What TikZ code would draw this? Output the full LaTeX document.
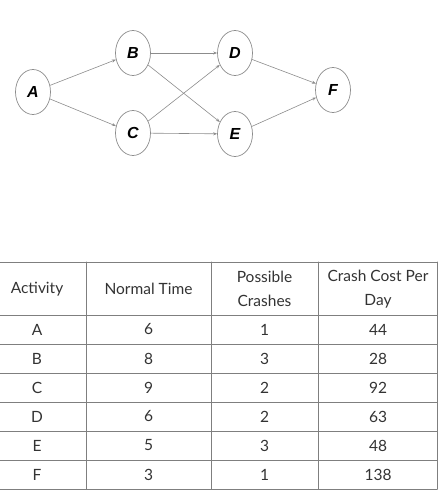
\documentclass[tikz,border=0pt]{standalone}
\usepackage{fontspec}
\setmainfont{Lato}
\newfontfamily\netfont{Liberation Sans}
\usetikzlibrary{shapes.geometric, arrows.meta}
\definecolor{edgegray}{HTML}{8C8C8C}
\definecolor{gridgray}{HTML}{7F7F7F}
\definecolor{txtgray}{HTML}{333333}
\tikzset{
  act/.style={ellipse, draw=edgegray, line width=0.7pt, minimum width=35pt, minimum height=45pt,
    inner sep=0pt, font=\netfont\bfseries\itshape\fontsize{16}{16}\selectfont},
  link/.style={draw=edgegray, line width=0.6pt, -{Stealth[length=4pt,width=3pt]}},
  grid/.style={draw=gridgray, line width=1pt},
  cell/.style={text=txtgray, font=\fontsize{15.5}{24}\selectfont, align=center, inner sep=0pt}
}
\begin{document}
\begin{tikzpicture}[x=1pt,y=-1pt,line cap=round]
        \useasboundingbox (0,0) rectangle (444,500);
        %rete delle attivita
        \node[act] (A) at (33,92) {A};
        \node[act] (B) at (133,53) {B};
        \node[act] (C) at (133,133) {C};
        \node[act] (D) at (235,53) {D};
        \node[act] (E) at (235,134) {E};
        \node[act] (F) at (333,90) {F};
        % frecce
        \draw[link] (A) -- (B);
        \draw[link] (A) -- (C);
        \draw[link] (B) -- (D);
        \draw[link] (B) -- (E);
        \draw[link] (C) -- (D);
        \draw[link] (C) -- (E);
        \draw[link] (D) -- (F);
        \draw[link] (E) -- (F);

        %griglia tabella
        \draw[grid] (0,262) -- (437,262);
        \foreach \y in {315,344,373,402,431,460,489}
          \draw[grid] (0,\y) -- (437,\y);
        \foreach \x in {86,211,318,437}
          \draw[grid] (\x,262) -- (\x,489);
        %intestazione
        \node[cell] (hact) at (37,289) {Activity};
        \node[cell] (hnt) at (148.5,289) {Normal Time};
        \node[cell] (hpc) at (264.5,289) {Possible\\Crashes};
        \node[cell] (hcc) at (378,289) {Crash Cost Per\\Day};
        % righe dati
        \foreach \name/\nt/\pc/\cc [count=\r] in {A/6/1/44, B/8/3/28, C/9/2/92, D/6/2/63, E/5/3/48, F/3/1/138} {
          \node[cell] (act\r) at (37,300.5+29*\r) {\name};
          \node[cell] (nt\r) at (148.5,300.5+29*\r) {\nt};
          \node[cell] (pc\r) at (264.5,300.5+29*\r) {\pc};
          \node[cell] (cc\r) at (378,300.5+29*\r) {\cc};
        }
\end{tikzpicture}
\end{document}
